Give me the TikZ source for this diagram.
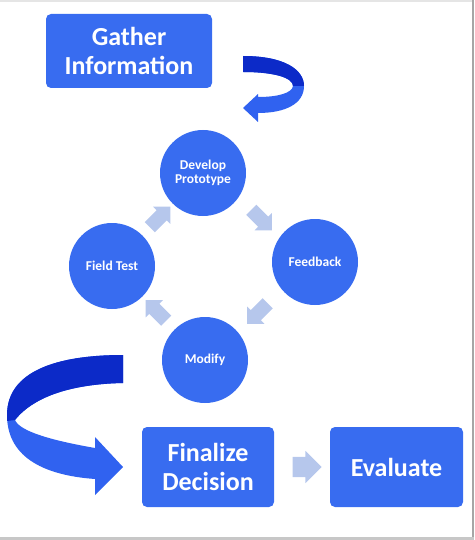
\documentclass[tikz,border=0pt]{standalone}
\usepackage{fontspec}
\setmainfont{Carlito}
\usetikzlibrary{calc,shapes.arrows}
\definecolor{stepblue}{RGB}{56,108,240}
\definecolor{palearrow}{RGB}{182,199,236}
\definecolor{swirldark}{RGB}{12,42,200}
\definecolor{swirllight}{RGB}{48,98,240}
\tikzset{
	bigbox/.style={fill=stepblue, rounded corners=5pt, text=white, align=center, inner sep=0pt, font=\bfseries\fontsize{26}{29}\selectfont},
	stage/.style={circle, fill=stepblue, minimum size=86pt, inner sep=0pt, text=white, align=center, font=\bfseries\fontsize{13.5}{14.5}\selectfont},
	flowarrow/.style={single arrow, fill=palearrow, inner xsep=0pt, inner ysep=7pt, minimum height=29pt, single arrow head extend=5pt}
}

\begin{document}
\begin{tikzpicture}[x=1pt, y=-1pt]
				\useasboundingbox (0,0) rectangle (474,540);
				\draw[black!10, line width=2pt] (0,1) -- (474,1);
				\draw[black!35, line width=2pt] (473,0) -- (473,540);
				\draw[black!22, line width=3pt] (0,538.5) -- (474,538.5);
				
				\node[bigbox, minimum width=166pt, minimum height=74pt] (gather) at (129,51) {Gather\\Information};
				
				\node[stage] (develop) at (203,173) {Develop\\Prototype};
				\node[stage] (feedback) at (315,262) {Feedback};
				\node[stage] (modify) at (205,360) {Modify};
				\node[stage] (fieldtest) at (112,266) {Field Test};
				
				\node[flowarrow, rotate=45] (up) at ($(fieldtest)!0.5!(develop)$) {};
				\node[flowarrow, rotate=-45] (right) at ($(develop)!0.5!(feedback)$) {};
				\node[flowarrow, rotate=-135] (down) at ($(feedback)!0.5!(modify)$) {};
				\node[flowarrow, rotate=135] (left) at ($(modify)!0.5!(fieldtest)$) {};
				
				\node[bigbox, minimum width=132pt, minimum height=80pt] (finalize) at (208,467) {Finalize\\Decision};
				\node[bigbox, minimum width=133pt, minimum height=80pt] (evaluate) at (396.5,467) {Evaluate};
				\node[flowarrow, inner ysep=10pt, minimum height=29pt, single arrow head extend=6pt] (onward) at ($(finalize.east)!0.5!(evaluate.west)$) {};
				
				\fill[swirllight] (243,56) .. controls (285,56) and (304,70) .. (304,86) .. controls (304,104) and (285,113) .. (258,113) -- (258,122) -- (243,108) -- (258,94) -- (258,97) .. controls (278,97) and (292,93) .. (293,86) .. controls (293,78) and (275,72) .. (243,72) -- cycle;
				\fill[swirldark] (243,56) .. controls (285,56) and (304,70) .. (304,86) -- (293,86) .. controls (293,78) and (275,72) .. (243,72) -- cycle;
				
				\fill[swirllight] (123,355) .. controls (55,355) and (7,372) .. (7,415) .. controls (7,455) and (40,475) .. (95,479) -- (95,495) -- (123,467) -- (95,437) -- (95,448) .. controls (55,441) and (20,432) .. (15,420) .. controls (35,395) and (75,384) .. (123,383) -- cycle;
				\fill[swirldark] (123,355) .. controls (55,355) and (7,372) .. (7,415) -- (7,421) -- (15,420) .. controls (35,395) and (75,384) .. (123,383) -- cycle;
\end{tikzpicture}
\end{document}
